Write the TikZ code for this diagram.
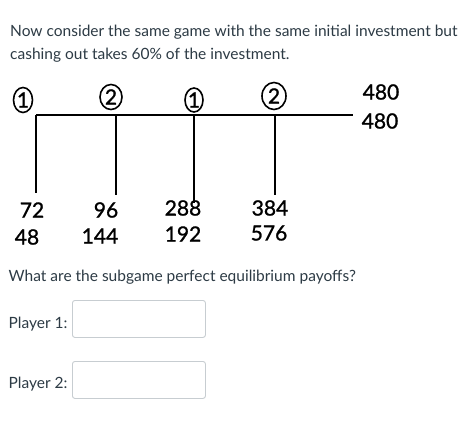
\documentclass[tikz,border=0pt]{standalone}
\usepackage{fontspec}
\setmainfont{Lato}
\newfontfamily\handfont[FakeBold=1.2]{Lato}
\usetikzlibrary{shapes.geometric}
\definecolor{txt}{HTML}{2D3B45}
\definecolor{boxc}{HTML}{C7CDD1}
\begin{document}
\begin{tikzpicture}[x=1pt,y=-1pt,
  qtext/.style={anchor=base west,inner sep=0pt,text=txt,font=\fontsize{15.5}{19}\selectfont},
  hand/.style={inner sep=0pt,text=black,font=\handfont\fontsize{21}{24}\selectfont},
  player/.style={inner sep=0pt,text=black,font=\handfont\fontsize{21}{24}\selectfont},
  ring/.style={draw=black,line width=1.6pt},
  edge/.style={line width=1.8pt,black},
  ansbox/.style={draw=boxc,line width=0.9pt,rounded corners=2.5pt,minimum width=133pt,minimum height=37pt,inner sep=0pt,anchor=north west}]
\useasboundingbox (0,0) rectangle (474,432);
\fill[white] (0,0) rectangle (474,432);
% question text
\node[qtext] (q1) at (10,36.7) {Now consider the same game with the same initial investment but};
\node[qtext] (q2) at (10,59.5) {cashing out takes 60\% of the investment.};
% player nodes
\node[player] (p1) at (23,100) {1};
\node[player] (p2) at (111,97) {2};
\node[player] (p3) at (194,100) {1};
\node[player] (p4) at (274,96) {2};
\draw[ring] (p1) ellipse [x radius=9.5, y radius=12.5];
\draw[ring] (p2) ellipse [x radius=11, y radius=12.5];
\draw[ring] (p3) ellipse [x radius=9, y radius=12];
\draw[ring] (p4) ellipse [x radius=12, y radius=13.5];
% tree
\coordinate (d1) at (36,115);
\coordinate (d2) at (116,115);
\coordinate (d3) at (194,115);
\coordinate (d4) at (275,115);
\coordinate (dend) at (353,115);
\coordinate (t1) at (36,193);
\coordinate (t2) at (116,195);
\coordinate (t3) at (194,203);
\coordinate (t4) at (275,195);
\draw[edge] (d1) -- (d2) -- (d3) -- (d4) -- (dend);
\draw[edge] (d1) -- (t1);
\draw[edge] (d2) -- (t2);
\draw[edge] (d3) -- (t3);
\draw[edge] (d4) -- (t4);
% payoffs
\node[hand] (e1) at (381,92) {480};
\node[hand] (e2) at (380,121) {480};
\node[hand] (a1) at (32,210) {72};
\node[hand] (a2) at (27,237) {48};
\node[hand] (b1) at (106,210) {96};
\node[hand] (b2) at (100,236) {144};
\node[hand] (c1) at (183,208) {288};
\node[hand] (c2) at (183,234) {192};
\node[hand] (f1) at (270,208) {384};
\node[hand] (f2) at (269,233) {576};
% bottom
\node[qtext] (q3) at (8.5,281.7) {What are the subgame perfect equilibrium payoffs?};
\node[qtext] (l1) at (8.5,328) {Player 1:};
\node[ansbox] (box1) at (72,300) {};
\node[qtext] (l2) at (8.5,388.5) {Player 2:};
\node[ansbox] (box2) at (72,361) {};
\end{tikzpicture}
\end{document}
